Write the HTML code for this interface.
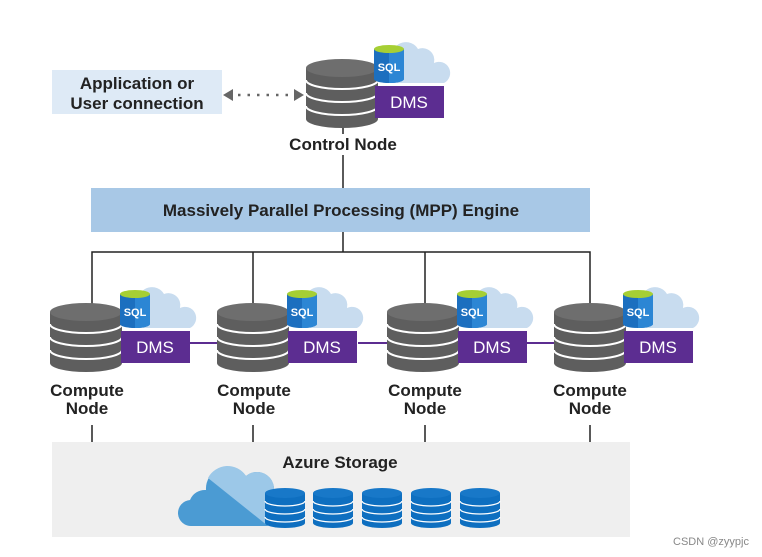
<!DOCTYPE html>
<html><head><meta charset="utf-8"><style>
html,body{margin:0;padding:0;background:#fff;}
svg{display:block;font-family:"Liberation Sans",sans-serif;}
</style></head><body>
<svg width="762" height="557" viewBox="0 0 762 557" xmlns="http://www.w3.org/2000/svg">
<defs>
<g id="cyl">
  <path d="M-36,10 L-36,61 A36,9 0 0 0 36,61 L36,10 Z" fill="#5e5e5e"/>
  <ellipse cx="0" cy="10" rx="36" ry="9" fill="#6e6e6e"/>
  <path d="M-36,22 A36,9 0 0 0 36,22" fill="none" stroke="#fff" stroke-width="2"/>
  <path d="M-36,35 A36,9 0 0 0 36,35" fill="none" stroke="#fff" stroke-width="2"/>
  <path d="M-36,48 A36,9 0 0 0 36,48" fill="none" stroke="#fff" stroke-width="2"/>
</g>
<g id="sqldms">
  <path d="M18,40 L18,12 A14,14 0 0 1 44,6 A12,12 0 0 1 60,20 A11,11 0 0 1 70,40 Z" fill="#c8dcef"/>
  <path d="M0,6 L0,36 A15,4 0 0 0 30,36 L30,6 Z" fill="#1c6fbf"/>
  <path d="M15,6 L30,6 L30,36 A15,4 0 0 1 15,40 Z" fill="#2c86d4"/>
  <ellipse cx="15" cy="6" rx="15" ry="4" fill="#a6cf34"/>
  <text x="15" y="28" font-size="11" font-weight="bold" fill="#fff" text-anchor="middle">SQL</text>
  <rect x="1" y="43" width="69" height="32" fill="#5c2d91"/>
  <text x="35" y="65" font-size="17" fill="#fff" text-anchor="middle">DMS</text>
</g>
<g id="bcyl">
  <path d="M-20,5 L-20,35 A20,5 0 0 0 20,35 L20,5 Z" fill="#0e6fc0"/>
  <ellipse cx="0" cy="5" rx="20" ry="5" fill="#1878c8"/>
  <path d="M-20,13 A20,5 0 0 0 20,13 M-20,21 A20,5 0 0 0 20,21 M-20,29 A20,5 0 0 0 20,29" fill="none" stroke="#fff" stroke-width="1.3"/>
</g>
</defs>

<rect x="52" y="70" width="170" height="44" fill="#deeaf6"/>
<text x="137" y="89" font-size="17" font-weight="bold" fill="#222" text-anchor="middle">Application or</text>
<text x="137" y="109" font-size="17" font-weight="bold" fill="#222" text-anchor="middle">User connection</text>
<polygon points="223,95 233,89 233,101" fill="#666"/>
<polygon points="304,95 294,89 294,101" fill="#666"/>
<line x1="238" y1="95" x2="290" y2="95" stroke="#666" stroke-width="2.5" stroke-dasharray="2.5,7"/>

<line x1="343" y1="126" x2="343" y2="134" stroke="#222" stroke-width="1.5"/>
<line x1="343" y1="155" x2="343" y2="189" stroke="#222" stroke-width="1.5"/>
<use href="#cyl" x="342" y="58"/>
<use href="#sqldms" x="374" y="43"/>
<text x="343" y="150" font-size="17" font-weight="bold" fill="#222" text-anchor="middle">Control Node</text>

<rect x="91" y="188" width="499" height="44" fill="#a8c8e6"/>
<text x="341" y="216" font-size="17" font-weight="bold" fill="#222" text-anchor="middle">Massively Parallel Processing (MPP) Engine</text>
<line x1="343" y1="232" x2="343" y2="252" stroke="#222" stroke-width="1.5"/>
<path d="M92,305 L92,252 L590,252 L590,305 M253,252 L253,305 M425,252 L425,305" fill="none" stroke="#222" stroke-width="1.5"/>

<line x1="190" y1="343" x2="218" y2="343" stroke="#5c2d91" stroke-width="2"/>
<line x1="358" y1="343" x2="388" y2="343" stroke="#5c2d91" stroke-width="2"/>
<line x1="527" y1="343" x2="555" y2="343" stroke="#5c2d91" stroke-width="2"/>

<use href="#cyl" x="86" y="302"/><use href="#sqldms" x="120" y="288"/>
<use href="#cyl" x="253" y="302"/><use href="#sqldms" x="287" y="288"/>
<use href="#cyl" x="423" y="302"/><use href="#sqldms" x="457" y="288"/>
<use href="#cyl" x="590" y="302"/><use href="#sqldms" x="623" y="288"/>

<g font-size="17" font-weight="bold" fill="#222" text-anchor="middle">
<text x="87" y="396">Compute</text><text x="87" y="414">Node</text>
<text x="254" y="396">Compute</text><text x="254" y="414">Node</text>
<text x="425" y="396">Compute</text><text x="425" y="414">Node</text>
<text x="590" y="396">Compute</text><text x="590" y="414">Node</text>
</g>
<path d="M92,425 L92,442 M253,425 L253,442 M425,425 L425,442 M590,425 L590,442" stroke="#222" stroke-width="1.5"/>

<rect x="52" y="442" width="578" height="95" fill="#efefef"/>
<text x="340" y="468" font-size="17" font-weight="bold" fill="#222" text-anchor="middle">Azure Storage</text>
<path d="M192,526 A13,13 0 0 1 190,500 A16,16 0 0 1 206,490 A22,22 0 0 1 246,476 A16,16 0 0 1 268,502 L268,526 Z" fill="#4b9bd3"/>
<path d="M208,478 A22,22 0 0 1 246,476 A16,16 0 0 1 268,502 L268,526 Z" fill="#9cc8e8"/>
<use href="#bcyl" x="285" y="488"/>
<use href="#bcyl" x="333" y="488"/>
<use href="#bcyl" x="382" y="488"/>
<use href="#bcyl" x="431" y="488"/>
<use href="#bcyl" x="480" y="488"/>

<text x="673" y="545" font-size="11" fill="#888">CSDN @zyypjc</text>
</svg>
</body></html>
